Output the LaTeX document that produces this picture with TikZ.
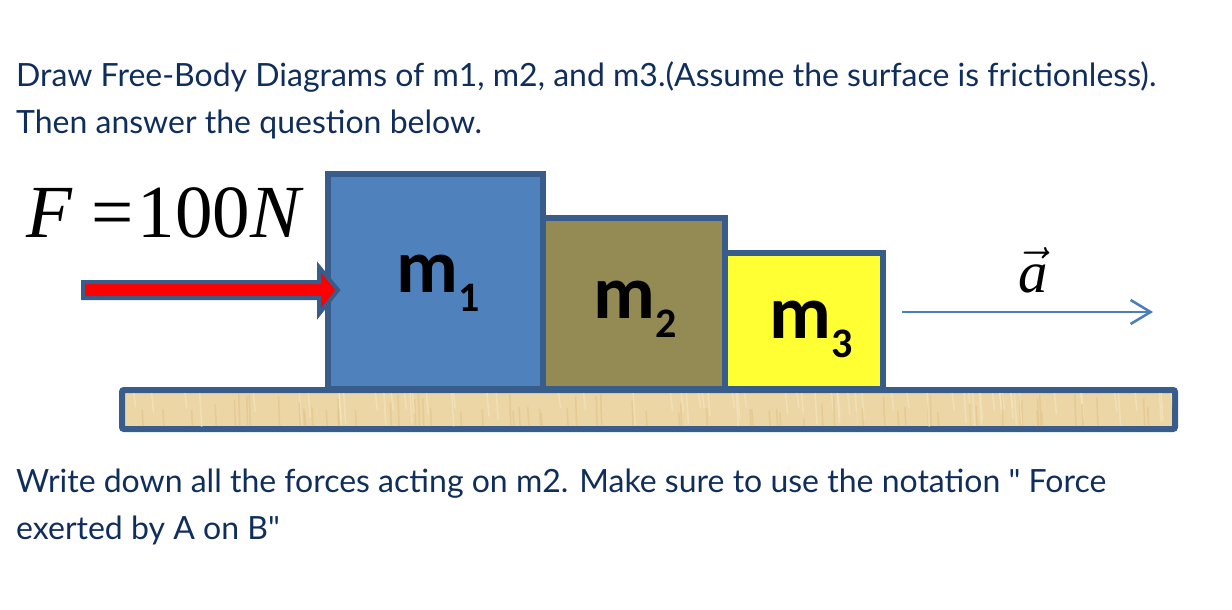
\RequirePackage{fix-cm}
\documentclass[tikz,border=0pt]{standalone}
\usepackage[no-math]{fontspec}
\setmainfont{Lato}[Ligatures=TeXOff]
\newfontfamily\serifface{Liberation Serif}
\newfontfamily\blockface{Carlito}
\usetikzlibrary{arrows.meta, positioning}

\definecolor{inktext}{RGB}{16,46,92}
\definecolor{blockedge}{RGB}{56,93,138}
\definecolor{massone}{RGB}{79,129,189}
\definecolor{masstwo}{RGB}{148,138,84}
\definecolor{massthree}{RGB}{255,255,51}
\definecolor{woodfill}{RGB}{236,214,166}
\definecolor{woodlight}{RGB}{245,230,196}
\definecolor{wooddark}{RGB}{225,195,135}
\definecolor{accblue}{RGB}{74,126,187}

% mass symbol with a lowered index
\newcommand{\massname}[1]{m\raisebox{-19pt}{\fontsize{42}{42}\selectfont #1}}

\begin{document}
\begin{tikzpicture}[
        x=1pt, y=-1pt,
        % lines of the task text
        prose/.style={anchor=base west, inner sep=0pt, text=inktext,
            font=\fontsize{32}{40}\selectfont},
        % the three masses and the floor under them
        block/.style={draw=blockedge, line width=6pt, inner sep=0pt,
            outer sep=0pt, anchor=south west},
        floorbar/.style={draw=blockedge, fill=woodfill, line width=6pt,
            inner sep=0pt, outer sep=0pt, rounded corners=2pt,
            anchor=north west},
        grain/.style={line width=1.5pt, opacity=0.6},
        masslabel/.style={anchor=base west, inner sep=0pt,
            font=\blockface\bfseries\fontsize{76}{76}\selectfont},
        pusharrow/.style={fill=red, draw=blockedge, line width=4pt,
            line join=miter},
        accarrow/.style={draw=accblue, line width=2.5pt,
            -{Straight Barb[length=20pt, width=24pt]}}
    ]
    \useasboundingbox (0,0) rectangle (1232,610);

    % task text
    \node[prose] (intro1) at (16,86)
        {Draw Free-Body Diagrams of m1, m2, and m3.(Assume the surface is frictionless).};
    \node[prose] (intro2) at (16,133) {Then answer the question below.};
    \node[prose] (ask1) at (16,492)
        {Write down all the forces acting on m2. Make sure to use the notation " Force};
    \node[prose] (ask2) at (16,539) {exerted by A on B"};

    % floor with some wood grain
    \node[floorbar, minimum width=1053pt, minimum height=39pt] (floor) at (122,390) {};
    \begin{scope}
        \clip (125,393) rectangle (1172,426);
        \pgfmathsetseed{17}
        \foreach \i in {1,...,140} {
            \pgfmathsetmacro\gx{125+1047*rnd}
            \pgfmathsetmacro\gy{393+20*rnd}
            \ifodd\i
                \draw[grain, woodlight] (\gx,393) -- (\gx+2,\gy+14);
            \else
                \draw[grain, wooddark] (\gx,\gy) -- (\gx+1,426);
            \fi
        }
    \end{scope}

    % blocks
    \node[block, fill=massone, minimum width=215pt, minimum height=215pt]
        (m1) at (328,389) {};
    \node[block, fill=masstwo, minimum width=182pt, minimum height=171pt]
        (m2) at (m1.south east) {};
    \node[block, fill=massthree, minimum width=158pt, minimum height=136pt]
        (m3) at (m2.south east) {};

    \node[masslabel] (lab1) at (396,292) {\massname{1}};
    \node[masslabel] (lab2) at (593,318) {\massname{2}};
    \node[masslabel] (lab3) at (769,338) {\massname{3}};

    % applied force
    \draw[pusharrow] (83,282) -- (319,282) -- (319,267) -- (338,290)
        -- (319,314) -- (319,298) -- (83,298) -- cycle;
    \node[anchor=base west, inner sep=0pt,
        font=\serifface\fontsize{75}{76}\selectfont] (force) at (26,237)
        {\textit{F} =\kern4pt100\textit{N}};

    % acceleration
    \coordinate (accstart) at (902,312);
    \coordinate (accend) at (1153,312);
    \draw[accarrow] (accstart) -- (accend);
    \node[anchor=base west, inner sep=0pt,
        font=\serifface\fontsize{59}{60}\selectfont] (acc) at (1018,292)
        {$\vec{\mbox{\itshape a}}$};
\end{tikzpicture}
\end{document}
